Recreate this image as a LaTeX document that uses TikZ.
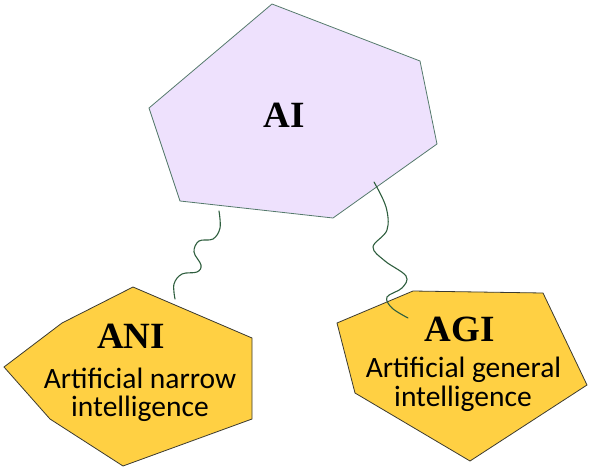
\documentclass[tikz,border=0pt]{standalone}
\usepackage{fontspec}
\setmainfont{Liberation Serif}
\newfontfamily\subfont{Carlito}
\definecolor{aifill}{HTML}{EEE1FD}
\definecolor{aiedge}{HTML}{557A6C}
\definecolor{yfill}{HTML}{FFD043}
\definecolor{yedge}{HTML}{3B3A30}
\definecolor{wire}{HTML}{2E5E3E}
\tikzset{
  aipoly/.style={fill=aifill, draw=aiedge, line width=0.8pt, line join=miter},
  ypoly/.style={fill=yfill, draw=yedge, line width=0.8pt, line join=miter},
  titletext/.style={font=\fontsize{37}{40}\selectfont\bfseries, anchor=base, inner sep=0pt},
  subtext/.style={font=\subfont\fontsize{29.5}{30}\selectfont, anchor=base, inner sep=0pt},
  wirestyle/.style={draw=wire, line width=1.1pt, line cap=round}
}
\begin{document}
\begin{tikzpicture}[x=1pt,y=-1pt]
\useasboundingbox (0,0) rectangle (591,471);
% shapes
\draw[aipoly] (272,4) -- (420,61) -- (437,144) -- (333,218) -- (180,201) -- (149,108) -- cycle;
\draw[ypoly] (133,287) -- (252,338) -- (252,419) -- (123,466) -- (50,419) -- (4,367) -- (62,323) -- cycle;
\draw[ypoly] (413,291) -- (543,293) -- (587,385) -- (470,461) -- (355,393) -- (337,323) -- cycle;
% wire end points
\coordinate (wAtop) at (219,211);
\coordinate (wAbot) at (175,299);
\coordinate (wBtop) at (374,182);
\coordinate (wBbot) at (408,318);
% wires
\draw[wirestyle] plot[smooth, tension=0.6] coordinates {(wAtop) (220,228) (213,239) (199,241) (194,252) (201,265) (197,272) (182,274) (174,284) (wAbot)};
\draw[wirestyle] plot[smooth, tension=0.6] coordinates {(wBtop) (386,207) (387,230) (373,247) (385,261) (406,276) (402,288) (387,297) (392,308) (wBbot)};
% texts
\node[titletext] (ai) at (284,127.7) {AI};
\node[titletext] (ani) at (131,348.3) {ANI};
\node[subtext] (anisub1) at (140,388.3) {Artificial narrow};
\node[subtext] (anisub2) at (140,416.6) {intelligence};
\node[titletext] (agi) at (459.5,341.7) {AGI};
\node[subtext] (agisub1) at (463.5,377.3) {Artificial general};
\node[subtext] (agisub2) at (463,406) {intelligence};
\end{tikzpicture}
\end{document}
